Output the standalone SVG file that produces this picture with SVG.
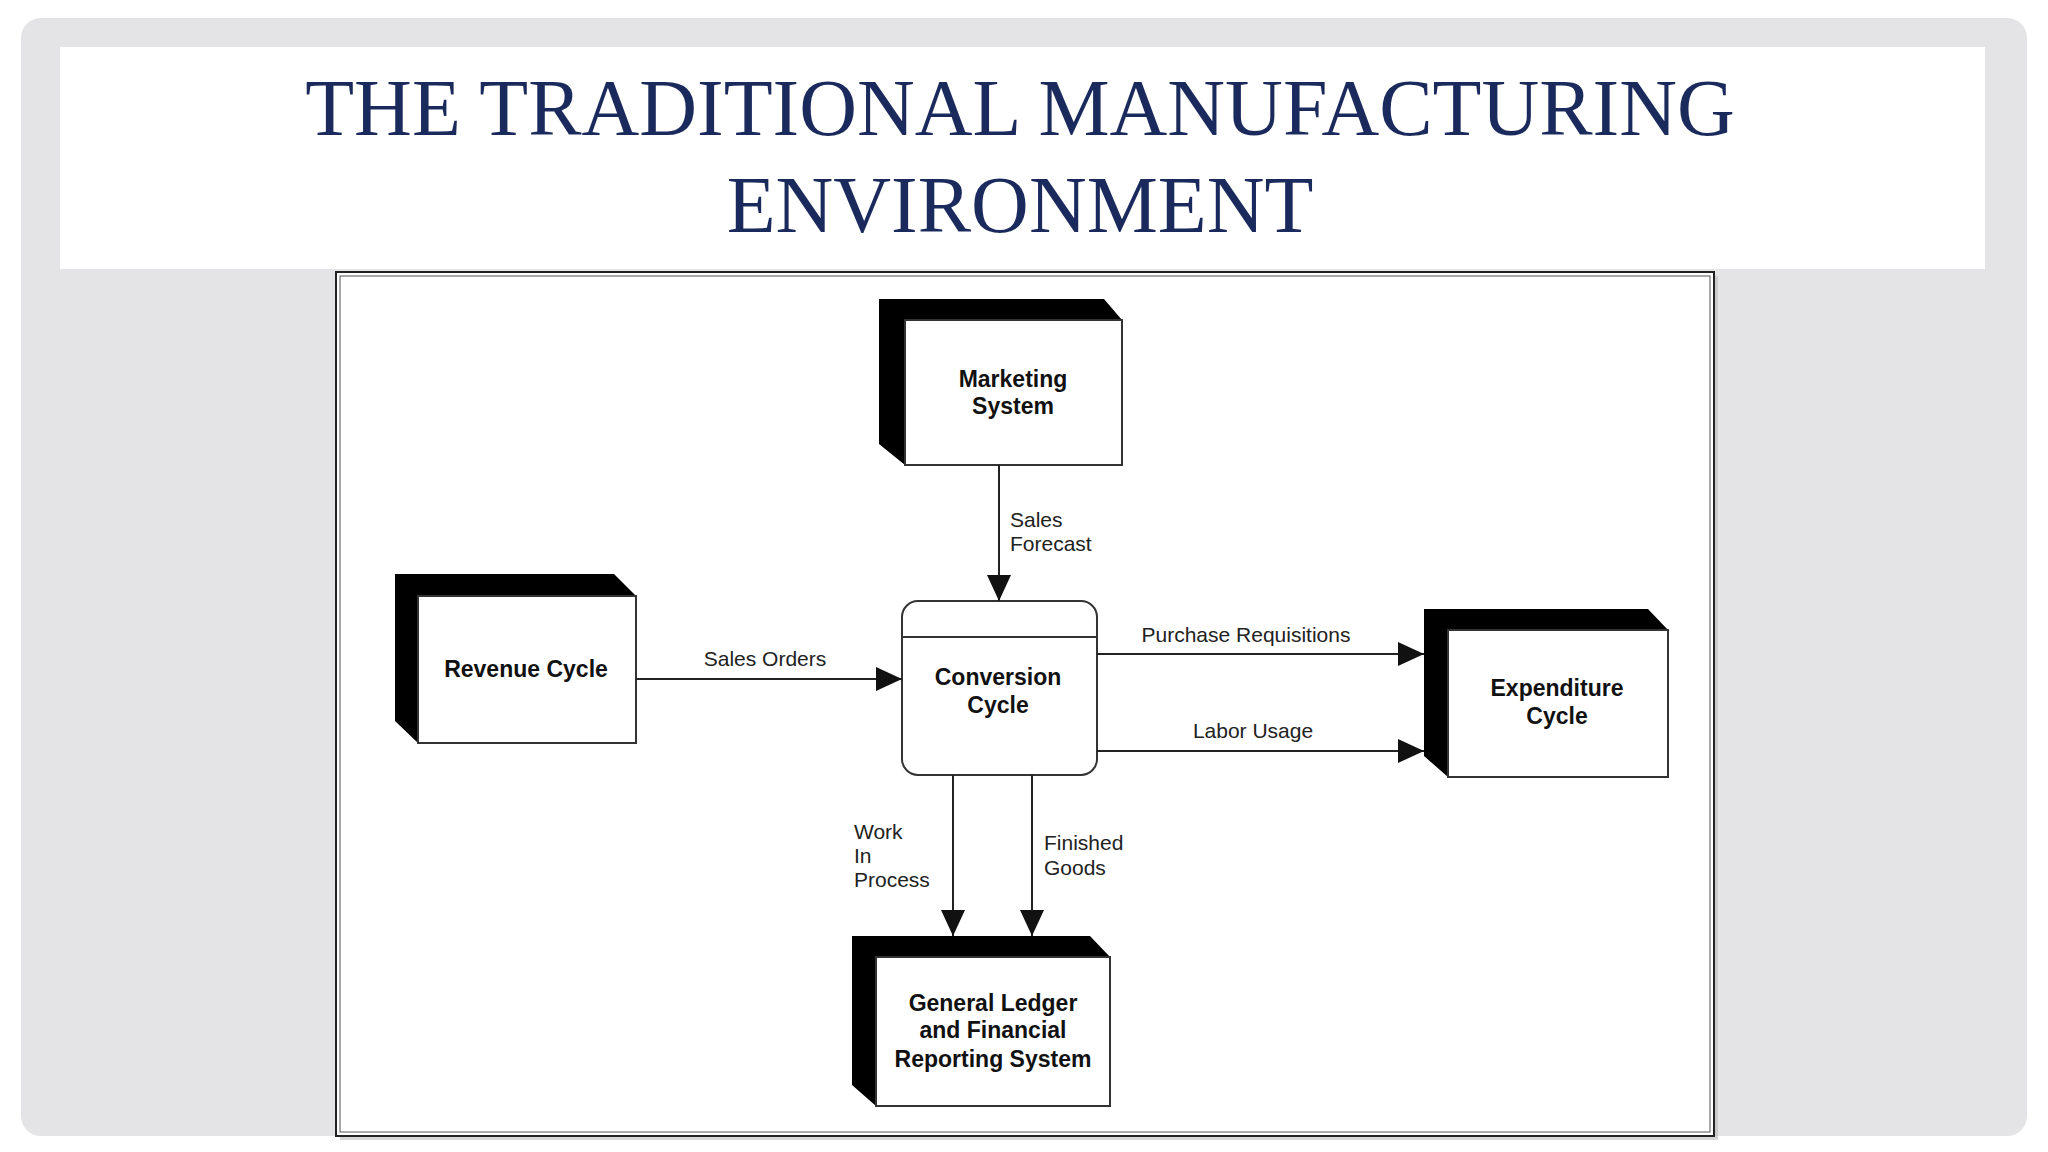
<svg xmlns="http://www.w3.org/2000/svg" width="2048" height="1152" viewBox="0 0 2048 1152">
<style>
.t{font-family:"Liberation Serif",serif;font-size:80px;fill:#1b2a5c;text-anchor:middle}
.n{font-family:"Liberation Sans",Arial,sans-serif;font-size:23px;font-weight:bold;text-anchor:middle;fill:#111}
.l{font-family:"Liberation Sans",Arial,sans-serif;font-size:21px;fill:#222}
.f{fill:#fff;stroke:#333;stroke-width:2}
.e{stroke:#222;stroke-width:2;fill:none;marker-end:url(#a)}
</style>
<defs><marker id="a" markerWidth="26" markerHeight="24" refX="26" refY="12" orient="auto" markerUnits="userSpaceOnUse"><path d="M0,0 L26,12 L0,24 Z" fill="#111"/></marker></defs>
<rect width="2048" height="1152" fill="#fff"/>
<rect x="21" y="18" width="2006" height="1118" rx="20" fill="#e4e4e6"/>
<rect x="60" y="47" width="1925" height="222" fill="#fff"/>
<text class="t" x="1020" y="135">THE TRADITIONAL MANUFACTURING</text>
<text class="t" x="1020" y="232">ENVIRONMENT</text>
<rect x="340" y="276" width="1378" height="864" fill="#bbb" opacity="0.6"/>
<rect x="336" y="272" width="1378" height="864" fill="#fff" stroke="#222" stroke-width="2"/>
<rect x="340" y="276" width="1370" height="856" fill="none" stroke="#555" stroke-width="1"/>
<g id="marketing"><polygon points="879,299 1104,299 1122,320 905,320 905,465 879,444" fill="#000"/><rect class="f" x="905" y="320" width="217" height="145"/><text class="n" x="1013" y="387">Marketing</text><text class="n" x="1013" y="414">System</text></g>
<g id="revenue"><polygon points="395,574 614,574 636,596 418,596 418,743 395,721" fill="#000"/><rect class="f" x="418" y="596" width="218" height="147"/><text class="n" x="526" y="677">Revenue Cycle</text></g>
<g id="conversion"><rect class="f" x="902" y="601" width="195" height="174" rx="16"/><line x1="902" y1="637" x2="1097" y2="637" stroke="#333" stroke-width="2"/><text class="n" x="998" y="685">Conversion</text><text class="n" x="998" y="713">Cycle</text></g>
<g id="expenditure"><polygon points="1424,609 1648,609 1668,630 1448,630 1448,777 1424,756" fill="#000"/><rect class="f" x="1448" y="630" width="220" height="147"/><text class="n" x="1557" y="696">Expenditure</text><text class="n" x="1557" y="724">Cycle</text></g>
<g id="ledger"><polygon points="852,936 1090,936 1110,957 876,957 876,1106 852,1085" fill="#000"/><rect class="f" x="876" y="957" width="234" height="149"/><text class="n" x="993" y="1011">General Ledger</text><text class="n" x="993" y="1038">and Financial</text><text class="n" x="993" y="1067">Reporting System</text></g>
<g id="connectors">
<line class="e" x1="999" y1="465" x2="999" y2="601"/>
<line class="e" x1="636" y1="679" x2="902" y2="679"/>
<line class="e" x1="1097" y1="654" x2="1424" y2="654"/>
<line class="e" x1="1097" y1="751" x2="1424" y2="751"/>
<line class="e" x1="953" y1="775" x2="953" y2="936"/>
<line class="e" x1="1032" y1="775" x2="1032" y2="936"/>
<text class="l" x="1010" y="527">Sales</text><text class="l" x="1010" y="551">Forecast</text>
<text class="l" x="765" y="666" text-anchor="middle">Sales Orders</text>
<text class="l" x="1246" y="642" text-anchor="middle">Purchase Requisitions</text>
<text class="l" x="1253" y="738" text-anchor="middle">Labor Usage</text>
<text class="l" x="854" y="839">Work</text><text class="l" x="854" y="863">In</text><text class="l" x="854" y="887">Process</text>
<text class="l" x="1044" y="850">Finished</text><text class="l" x="1044" y="875">Goods</text>
</g>
</svg>
